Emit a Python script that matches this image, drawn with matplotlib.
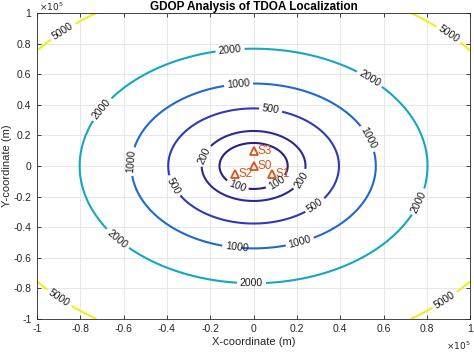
"""
GDOP contour map for a 4-station TDOA layout (S0 reference in the middle).
"""
import numpy as np
import matplotlib
matplotlib.use('Agg')
import matplotlib.pyplot as plt

plt.rcParams['font.family'] = ['Liberation Sans', 'DejaVu Sans']
plt.rcParams['axes.unicode_minus'] = False

# station layout (m)
sensor_names = ['S0', 'S1', 'S2', 'S3']
sensor_x = np.array([0.0, 8660.0, -8660.0, 0.0])
sensor_y = np.array([0.0, -5000.0, -5000.0, 10000.0])

# far-field GDOP approximation:
# gdop ~ scale * mean squared station distance (in 1e5 m), y slightly compressed
gdop_scale = 3065.0
y_aspect = 0.955

# contour levels and their colours (parula-like)
levels = [100, 200, 500, 1000, 2000, 5000]
level_colors = ['#2b1f7c', '#2c2a92', '#2f3bb3', '#1f68d2', '#16a5c3', '#f0ee1c']

# tick values, in units of 1e5 m
tick_vals = [-1, -0.8, -0.6, -0.4, -0.2, 0, 0.2, 0.4, 0.6, 0.8, 1]

# rough spots where the contour labels sit (units of 1e5 m)
label_spots = [(-0.88, 0.88), (0.92, 0.9), (-0.9, -0.87), (0.88, -0.87),
               (-0.11, 0.78), (-0.70, 0.37), (0.54, 0.58), (-0.63, -0.48),
               (-0.01, -0.79), (0.77, -0.24),
               (-0.07, 0.54), (-0.57, 0.03), (0.53, 0.18), (-0.08, -0.56), (0.22, -0.53),
               (0.08, 0.38), (-0.38, -0.14), (0.29, -0.27),
               (-0.23, 0.07), (0.22, -0.09),
               (-0.08, -0.15), (0.11, -0.12)]


def gdop(px, py):
    dx = (px[None] - sensor_x[:, None, None]) / 1e5
    dy = (py[None] - sensor_y[:, None, None]) / (1e5 * y_aspect)
    return gdop_scale * (dx ** 2 + dy ** 2).mean(0)


x = np.linspace(-1e5, 1e5, 501)
y = np.linspace(-1e5, 1e5, 501)
X, Y = np.meshgrid(x, y)
Z = gdop(X, Y)

fig = plt.figure(figsize=(4.74, 3.52), dpi=100)
ax = fig.add_axes([0.078, 0.094, 0.914, 0.869])

cs = ax.contour(X, Y, Z, levels=levels, colors=level_colors, linewidths=1.5)
ax.clabel(cs, fmt='%d', fontsize=7.5, inline=True, inline_spacing=3, colors='#1a1a1a',
          manual=[(px * 1e5, py * 1e5) for px, py in label_spots])

for name, sx, sy in zip(sensor_names, sensor_x, sensor_y):
    ax.plot(sx, sy, '^', ms=6, mfc='none', mec='#d95319', mew=1.3)
    ax.annotate(name, (sx, sy), xytext=(2.5, 0), textcoords='offset points',
                color='#d95319', fontsize=8.5, ha='left', va='center')

ax.set_xlim(-1e5, 1e5)
ax.set_ylim(-1e5, 1e5)
ticks = [t * 1e5 for t in tick_vals]
ax.set_xticks(ticks)
ax.set_yticks(ticks)
ax.set_xticklabels(['%g' % t for t in tick_vals])
ax.set_yticklabels(['%g' % t for t in tick_vals])
ax.tick_params(direction='in', top=True, right=True, length=3, width=0.6,
               labelsize=7.5, colors='#262626', pad=4)
ax.grid(True, color='#e3e3e3', lw=0.6)
ax.set_axisbelow(True)
for sp in ax.spines.values():
    sp.set_color('#262626')
    sp.set_linewidth(0.6)

ax.set_xlabel('X-coordinate (m)', fontsize=8, color='#262626', labelpad=2)
ax.set_ylabel('Y-coordinate (m)', fontsize=8, color='#262626', labelpad=1)
ax.set_title('GDOP Analysis of TDOA Localization', fontsize=8.5, fontweight='bold', pad=2)
ax.text(1.0, -0.068, r'$\times10^5$', transform=ax.transAxes, fontsize=6.5,
        ha='right', va='top', color='#262626')
ax.text(0.005, 1.0, r'$\times10^5$', transform=ax.transAxes, fontsize=6.5,
        ha='left', va='bottom', color='#262626')

fig.savefig('out.png', dpi=100)
